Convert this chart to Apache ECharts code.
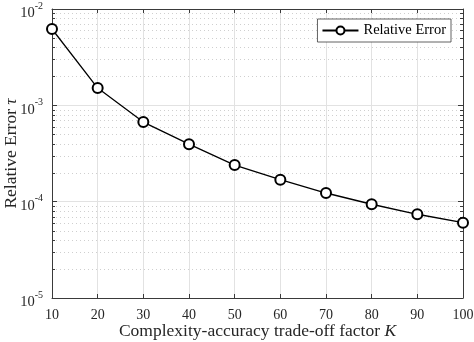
<!DOCTYPE html>
<html><head><meta charset="utf-8">
<script src="https://cdn.jsdelivr.net/npm/echarts@6/dist/echarts.min.js"></script>
<style>html,body{margin:0;padding:0;background:#fff}#c{width:474px;height:342px}</style>
</head><body><div id="c"></div>
<script>
const kValues = [10, 20, 30, 40, 50, 60, 70, 80, 90, 100];
const relErr = [6.2e-3, 1.51e-3, 6.7e-4, 3.95e-4, 2.4e-4, 1.69e-4, 1.23e-4, 9.4e-5, 7.4e-5, 6.05e-5];
const xTicks = [10, 20, 30, 40, 50, 60, 70, 80, 90, 100];
const yDecades = [1e-5, 1e-4, 1e-3, 1e-2];
const seriesName = 'Relative Error';

const minorVals = [];
for (let d = 0; d < yDecades.length - 1; d++) {
  for (let m = 2; m <= 9; m++) minorVals.push(yDecades[d] * m);
}
const FONT = 'Liberation Serif';
const axisCol = '#3a3a3a';
const xMin = xTicks[0], xMax = xTicks[xTicks.length - 1];

const chart = echarts.init(document.getElementById('c'), null, {renderer: 'canvas'});
const minorSeries = {
  type: 'custom', silent: true, z: 1,
  data: [[xMin, yDecades[1]]],
  renderItem: function (params, api) {
    const children = [];
    minorVals.forEach(function (v) {
      const pl = api.coord([xMin, v]);
      const pr = api.coord([xMax, v]);
      const y = Math.round(pl[1]) + 0.5;
      children.push({type: 'line', shape: {x1: pl[0], y1: y, x2: pr[0], y2: y},
        style: {stroke: '#cfcfcf', lineWidth: 1, lineDash: [1, 3]}});
      children.push({type: 'line', shape: {x1: pl[0], y1: y, x2: pl[0] + 3, y2: y},
        style: {stroke: axisCol, lineWidth: 1}});
      children.push({type: 'line', shape: {x1: pr[0], y1: y, x2: pr[0] - 3, y2: y},
        style: {stroke: axisCol, lineWidth: 1}});
    });
    return {type: 'group', children: children};
  }
};
const option = {
  animation: false,
  backgroundColor: '#fff',
  textStyle: {fontFamily: FONT},
  grid: {left: 52, right: 11, top: 9, bottom: 44, show: false, containLabel: false, outerBoundsMode: 'none'},
  legend: {
    show: true, right: 23, top: 19,
    data: [seriesName],
    borderColor: '#3a3a3a', borderWidth: 0.8, backgroundColor: '#fff',
    padding: [4, 5, 4, 4], itemWidth: 36, itemHeight: 10, itemGap: 4,
    textStyle: {fontFamily: FONT, fontSize: 14.5, color: '#000'}
  },
  xAxis: [{
    type: 'value', min: xMin, max: xMax, interval: 10,
    axisLine: {show: true, lineStyle: {color: axisCol, width: 1}},
    axisTick: {show: true, inside: true, length: 4, lineStyle: {color: axisCol}},
    axisLabel: {color: '#262626', fontFamily: FONT, fontSize: 14, margin: 10},
    splitLine: {show: true, lineStyle: {color: '#e2e2e2', width: 1}},
    name: 'Complexity-accuracy trade-off factor {i|K}',
    nameLocation: 'middle', nameGap: 24, nameMoveOverlap: false,
    nameTextStyle: {color: '#262626', fontFamily: FONT, fontSize: 17.5,
      rich: {i: {fontStyle: 'italic', fontFamily: FONT, fontSize: 17.5, color: '#262626'}}}
  }, {
    type: 'value', min: xMin, max: xMax, interval: 10, position: 'top',
    axisLine: {show: true, lineStyle: {color: axisCol, width: 1}},
    axisTick: {show: true, inside: true, length: 4, lineStyle: {color: axisCol}},
    axisLabel: {show: false}, splitLine: {show: false}
  }],
  yAxis: [{
    type: 'log', logBase: 10, min: yDecades[0], max: yDecades[yDecades.length - 1],
    axisLine: {show: true, lineStyle: {color: axisCol, width: 1}},
    axisTick: {show: true, inside: true, length: 5, lineStyle: {color: axisCol}},
    splitLine: {show: true, lineStyle: {color: '#e2e2e2', width: 1}},
    axisLabel: {
      margin: 9, fontFamily: FONT,
      formatter: function (v) {
        const e = Math.round(Math.log10(v));
        return '{b|10}{s|' + e + '}';
      },
      rich: {
        b: {fontSize: 14.5, color: '#262626', fontFamily: FONT, padding: [9, 0, 0, 0]},
        s: {fontSize: 10, color: '#262626', fontFamily: FONT, padding: [0, 0, 6, 0]}
      }
    },
    name: 'Relative Error {i|τ}',
    nameLocation: 'middle', nameGap: 32, nameRotate: 90, nameMoveOverlap: false,
    nameTextStyle: {color: '#262626', fontFamily: FONT, fontSize: 17.5,
      rich: {i: {fontStyle: 'italic', fontFamily: FONT, fontSize: 17.5, color: '#262626'}}}
  }, {
    type: 'log', logBase: 10, min: yDecades[0], max: yDecades[yDecades.length - 1], position: 'right',
    axisLine: {show: true, lineStyle: {color: axisCol, width: 1}},
    axisTick: {show: true, inside: true, length: 5, lineStyle: {color: axisCol}},
    axisLabel: {show: false}, splitLine: {show: false}
  }],
  series: [{
    name: seriesName, type: 'line',
    data: kValues.map((k, i) => [k, relErr[i]]),
    symbol: 'emptyCircle', symbolSize: 10,
    lineStyle: {color: '#000', width: 1.3},
    itemStyle: {color: '#000', borderColor: '#000', borderWidth: 1.1},
    z: 10
  }, minorSeries]
};
chart.setOption(option);
</script></body></html>
